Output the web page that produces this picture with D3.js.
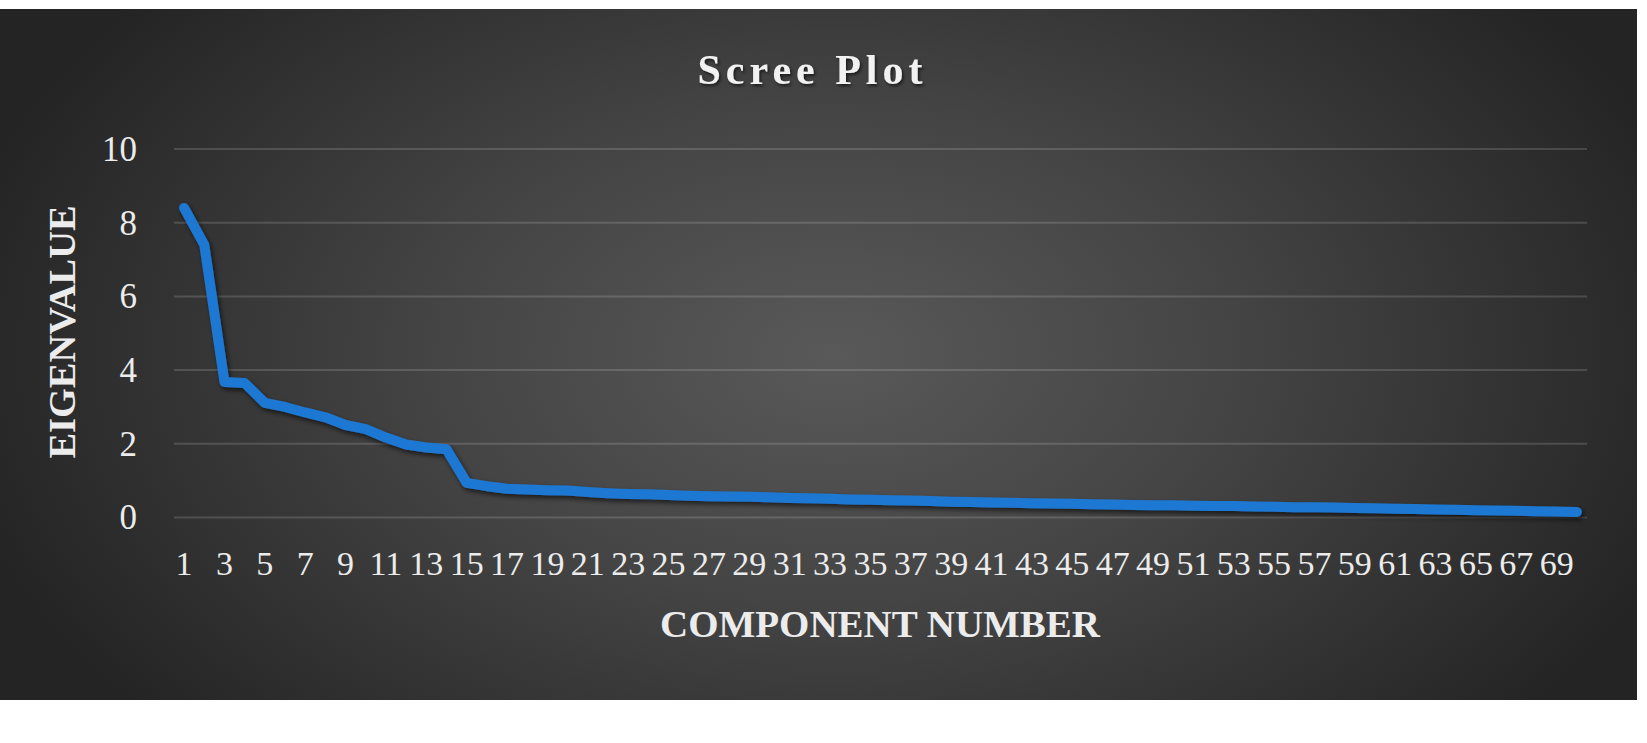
<!DOCTYPE html>
<html>
<head>
<meta charset="utf-8">
<script src="https://cdn.jsdelivr.net/npm/d3@7"></script>
<style>
  body { margin: 0; background: #fff; }
  svg { display: block; }
</style>
</head>
<body>
<div id="chart"></div>
<script>
// Scree plot - eigenvalue per component
const components = d3.range(1, 71);
const eigenvalues = [
  8.40, 7.40, 3.68, 3.65, 3.11, 3.00, 2.85, 2.72, 2.51, 2.40,
  2.17, 1.98, 1.90, 1.85, 0.94, 0.85, 0.78, 0.76, 0.74, 0.73,
  0.69, 0.66, 0.64, 0.63, 0.61, 0.59, 0.58, 0.57, 0.56, 0.55,
  0.53, 0.52, 0.51, 0.49, 0.48, 0.47, 0.46, 0.45, 0.43, 0.42,
  0.41, 0.40, 0.39, 0.38, 0.37, 0.36, 0.35, 0.34, 0.33, 0.33,
  0.32, 0.31, 0.31, 0.30, 0.29, 0.28, 0.28, 0.27, 0.26, 0.25,
  0.24, 0.23, 0.22, 0.21, 0.20, 0.19, 0.18, 0.17, 0.16, 0.15
];
const yTicks = [0, 2, 4, 6, 8, 10];
const xTickLabels = components.filter(c => c % 2 === 1);

const W = 1647, H = 743;
const bg = { x: 0, y: 9, w: 1637, h: 691 };
const plot = { left: 174, right: 1587, top: 149, bottom: 517.5 };
const font = "'Liberation Serif', 'DejaVu Serif', serif";

const svg = d3.select("#chart").append("svg")
    .attr("width", W)
    .attr("height", H);

const defs = svg.append("defs");

const grad = defs.append("radialGradient")
    .attr("id", "bg-grad")
    .attr("gradientUnits", "userSpaceOnUse")
    .attr("cx", 834).attr("cy", 355)
    .attr("r", 900)
    .attr("gradientTransform", "translate(834,355) scale(1,0.62) translate(-834,-355)");
grad.append("stop").attr("offset", "0%").attr("stop-color", "#595959");
grad.append("stop").attr("offset", "45%").attr("stop-color", "#444444");
grad.append("stop").attr("offset", "100%").attr("stop-color", "#242424");

const shadow = defs.append("filter")
    .attr("id", "line-shadow")
    .attr("x", "-5%").attr("y", "-20%")
    .attr("width", "110%").attr("height", "140%");
shadow.append("feDropShadow")
    .attr("dx", 2).attr("dy", 3)
    .attr("stdDeviation", 2.5)
    .attr("flood-color", "#000")
    .attr("flood-opacity", 0.6);

const textShadow = defs.append("filter").attr("id", "text-shadow");
textShadow.append("feDropShadow")
    .attr("dx", 1.5).attr("dy", 2)
    .attr("stdDeviation", 1.5)
    .attr("flood-color", "#000")
    .attr("flood-opacity", 0.6);

// Background
svg.append("rect")
    .attr("x", bg.x).attr("y", bg.y)
    .attr("width", bg.w).attr("height", bg.h)
    .attr("fill", "url(#bg-grad)");

// Scales
const x = d3.scalePoint()
    .domain(components)
    .range([plot.left, plot.right])
    .padding(0.5);

const y = d3.scaleLinear()
    .domain([0, 10])
    .range([plot.bottom, plot.top]);

// Gridlines
svg.append("g")
    .selectAll("line")
    .data(yTicks)
    .enter()
    .append("line")
    .attr("x1", plot.left)
    .attr("x2", plot.right)
    .attr("y1", d => y(d))
    .attr("y2", d => y(d))
    .attr("stroke", "#ffffff")
    .attr("stroke-opacity", 0.15)
    .attr("stroke-width", 2);

// Y tick labels
svg.append("g")
    .selectAll("text")
    .data(yTicks)
    .enter()
    .append("text")
    .attr("x", 137)
    .attr("y", d => y(d))
    .attr("dy", "0.34em")
    .attr("text-anchor", "end")
    .attr("font-family", font)
    .attr("font-size", 35)
    .attr("fill", "#ececec")
    .text(d => d);

// X tick labels
svg.append("g")
    .selectAll("text")
    .data(xTickLabels)
    .enter()
    .append("text")
    .attr("x", d => x(d))
    .attr("y", 575)
    .attr("text-anchor", "middle")
    .attr("font-family", font)
    .attr("font-size", 34)
    .attr("fill", "#ececec")
    .text(d => d);

// Line
const line = d3.line()
    .x((d, i) => x(components[i]))
    .y(d => y(d));

svg.append("path")
    .datum(eigenvalues)
    .attr("d", line)
    .attr("fill", "none")
    .attr("stroke", "#1e78d2")
    .attr("stroke-width", 10)
    .attr("stroke-linejoin", "round")
    .attr("stroke-linecap", "round")
    .attr("filter", "url(#line-shadow)");

// Title
svg.append("text")
    .attr("x", 810)
    .attr("y", 84)
    .attr("text-anchor", "middle")
    .attr("font-family", font)
    .attr("font-weight", "bold")
    .attr("font-size", 42)
    .attr("textLength", 225)
    .attr("lengthAdjust", "spacing")
    .attr("fill", "#f2f2f2")
    .attr("filter", "url(#text-shadow)")
    .text("Scree Plot");

// Axis titles
svg.append("text")
    .attr("transform", "translate(75,332) rotate(-90)")
    .attr("text-anchor", "middle")
    .attr("font-family", font)
    .attr("font-weight", "bold")
    .attr("font-size", 37)
    .attr("textLength", 253)
    .attr("lengthAdjust", "spacingAndGlyphs")
    .attr("fill", "#ececec")
    .text("EIGENVALUE");

svg.append("text")
    .attr("x", 880)
    .attr("y", 637)
    .attr("text-anchor", "middle")
    .attr("font-family", font)
    .attr("font-weight", "bold")
    .attr("font-size", 37)
    .attr("textLength", 440)
    .attr("lengthAdjust", "spacingAndGlyphs")
    .attr("fill", "#ececec")
    .text("COMPONENT NUMBER");
</script>
</body>
</html>
